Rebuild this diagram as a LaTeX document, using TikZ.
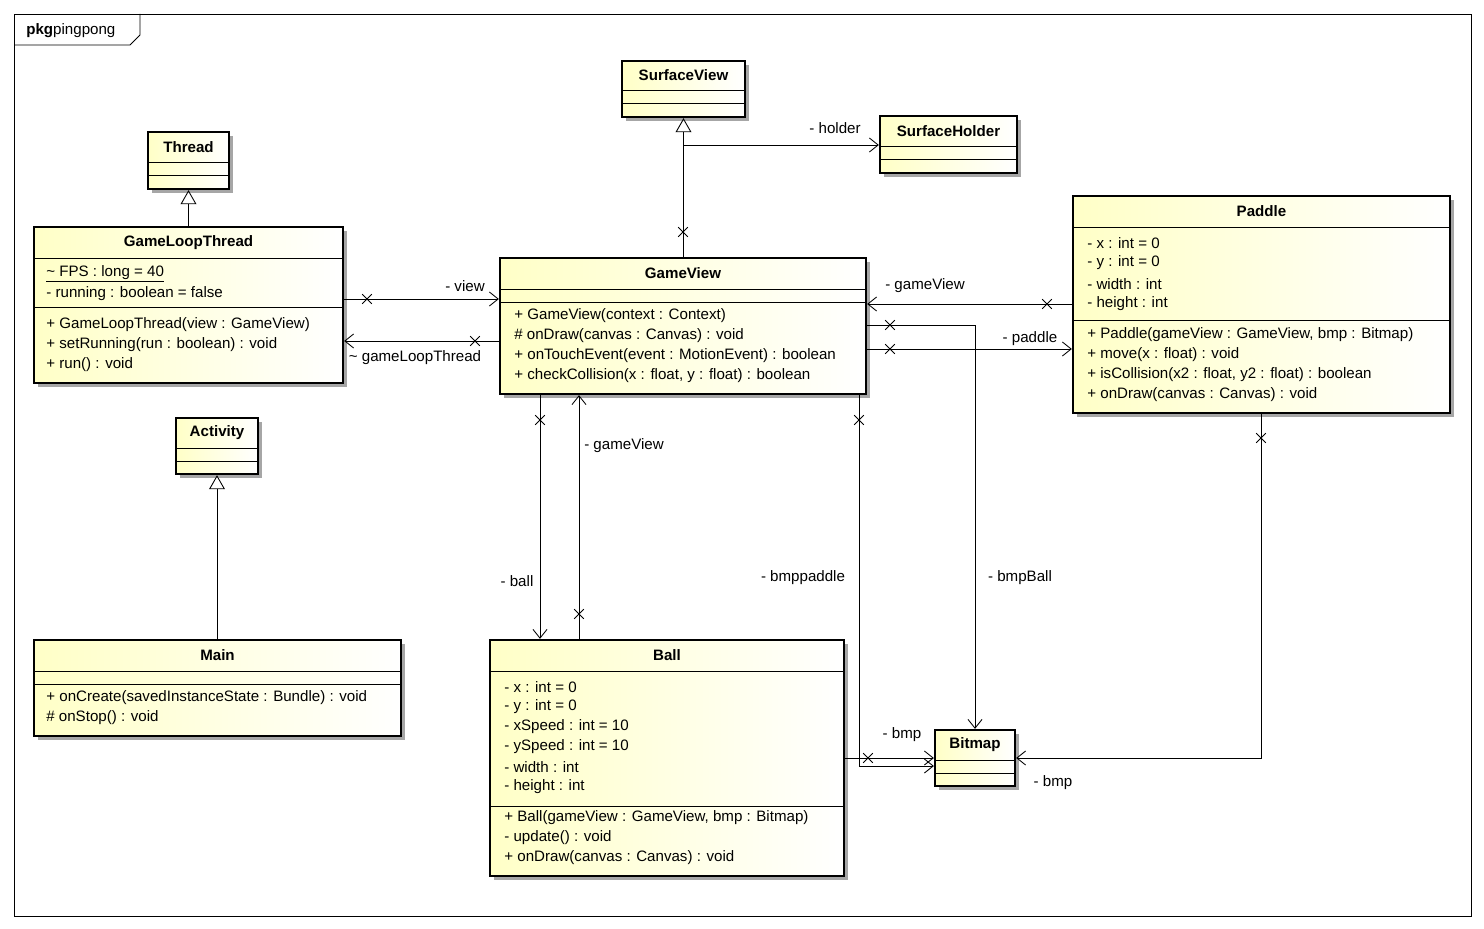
\documentclass[tikz,border=0pt]{standalone}
\usepackage{fontspec}
\setmainfont{Liberation Sans}
\usetikzlibrary{arrows.meta,fit,shapes.misc}

% one UML class: name, x1, y1, x2, y2, first separator, second separator, title
\newcommand{\umlclass}[8]{%
  \fill[black!35] (#2+4,#3+4) rectangle (#4+4,#5+4);
  \node[classbox, fit={(#2,#3)(#4,#5)}] (#1) {};
  \draw[sepline] (#2,#6) -- (#4,#6);
  \draw[sepline] (#2,#7) -- (#4,#7);
  \node[classtitle] at (0.5*#2+0.5*#4, 0.5*#3+0.5*#6) {#8};}

\begin{document}
\begin{tikzpicture}[
    x=0.02cm, y=-0.02cm,
    font=\fontsize{8.6}{10}\selectfont,
    classbox/.style={draw=black, line width=1.3pt, inner sep=0pt, left color=yellow!22, right color=white},
    sepline/.style={line width=0.5pt},
    classtitle/.style={font=\fontsize{8.6}{10}\selectfont\bfseries},
    member/.style={anchor=west, inner sep=0pt},
    lbl/.style={inner sep=0pt},
    assoc/.style={line width=0.5pt, -{Straight Barb[length=5pt, width=8pt]}},
    gen/.style={line width=0.5pt, -{Triangle[open, length=8pt, width=9pt, fill=white]}},
    xmark/.style={cross out, draw, line width=0.5pt, minimum size=5pt, inner sep=0pt}
]
\useasboundingbox (0,0) rectangle (1484,929);

% package frame
\draw[line width=0.5pt] (14,14) rectangle (1471,916);
\draw[line width=0.5pt] (14,45) -- (130,45) -- (140,35) -- (140,14);
\node[anchor=west, inner sep=0pt] (pkg) at (26,31) {\textbf{pkg}pingpong};

% classes
\umlclass{sv}{622}{61}{745}{117}{90}{103}{SurfaceView}
\umlclass{sh}{880}{116}{1017}{173}{146}{159}{SurfaceHolder}
\umlclass{thr}{148}{132}{229}{189}{162}{175}{Thread}
\umlclass{act}{176}{418}{258}{474}{448}{461}{Activity}
\umlclass{bmp}{935}{730}{1015}{786}{760}{773}{Bitmap}

\umlclass{glt}{34}{227}{343}{383}{258}{307}{GameLoopThread}
\node[member] (glt1) at (46,274) {\underline{\~{} FPS : long = 40}};
\node[member] (glt2) at (46,294) {- running : boolean = false};
\node[member] (glt3) at (46,325) {+ GameLoopThread(view : GameView)};
\node[member] (glt4) at (46,345) {+ setRunning(run : boolean) : void};
\node[member] (glt5) at (46,365) {+ run() : void};

\umlclass{gv}{500}{258}{866}{394}{289}{302}{GameView}
\node[member] (gv1) at (514,316) {+ GameView(context : Context)};
\node[member] (gv2) at (514,336) {\# onDraw(canvas : Canvas) : void};
\node[member] (gv3) at (514,356) {+ onTouchEvent(event : MotionEvent) : boolean};
\node[member] (gv4) at (514,376) {+ checkCollision(x : float, y : float) : boolean};

\umlclass{pad}{1073}{196}{1450}{413}{227}{320}{Paddle}
\node[member] (pad1) at (1087,243) {- x : int = 0};
\node[member] (pad2) at (1087,263) {- y : int = 0};
\node[member] (pad3) at (1087,284) {- width : int};
\node[member] (pad4) at (1087,304) {- height : int};
\node[member] (pad5) at (1087,335) {+ Paddle(gameView : GameView, bmp : Bitmap)};
\node[member] (pad6) at (1087,355) {+ move(x : float) : void};
\node[member] (pad7) at (1087,375) {+ isCollision(x2 : float, y2 : float) : boolean};
\node[member] (pad8) at (1087,395) {+ onDraw(canvas : Canvas) : void};

\umlclass{main}{34}{640}{401}{736}{671}{684}{Main}
\node[member] (main1) at (46,698) {+ onCreate(savedInstanceState : Bundle) : void};
\node[member] (main2) at (46,718) {\# onStop() : void};

\umlclass{ball}{490}{640}{844}{876}{671}{806}{Ball}
\node[member] (ball1) at (504,687) {- x : int = 0};
\node[member] (ball2) at (504,707) {- y : int = 0};
\node[member] (ball3) at (504,727) {- xSpeed : int = 10};
\node[member] (ball4) at (504,747) {- ySpeed : int = 10};
\node[member] (ball5) at (504,767) {- width : int};
\node[member] (ball6) at (504,787) {- height : int};
\node[member] (ball7) at (504,818) {+ Ball(gameView : GameView, bmp : Bitmap)};
\node[member] (ball8) at (504,838) {- update() : void};
\node[member] (ball9) at (504,858) {+ onDraw(canvas : Canvas) : void};

% generalizations
\draw[gen] (glt.north -| thr) -- (thr.south);
\draw[gen] (main.north -| act) -- (act.south);
\draw[gen] (gv.north -| sv) -- (sv.south);

% association helper coordinates
\coordinate (cHolder) at (683,145);
\coordinate (cView) at (0,299);
\coordinate (cLoop) at (0,341);
\coordinate (cPadGv) at (0,304);
\coordinate (cPaddle) at (0,349);
\coordinate (cBall) at (540,0);
\coordinate (cBallGv) at (579,0);
\coordinate (cBmpBall) at (975,325);
\coordinate (cBmpPad) at (859,766);
\coordinate (cBallBmp) at (0,758);
\coordinate (cPadBmp) at (1261,758);

% associations
\draw[assoc] (gv.north -| cHolder) -- (cHolder) -- (sh.west |- cHolder);
\node[xmark] (x1) at (683,232) {};
\node[lbl] (l1) at (835,128) {- holder};

\draw[assoc] (glt.east |- cView) -- (gv.west |- cView);
\node[xmark] (x2) at (367,299) {};
\node[lbl] (l2) at (465,286) {- view};

\draw[assoc] (gv.west |- cLoop) -- (glt.east |- cLoop);
\node[xmark] (x3) at (475,341) {};
\node[lbl] (l3) at (415,358) {\~{} gameLoopThread};

\draw[assoc] (pad.west |- cPadGv) -- (gv.east |- cPadGv);
\node[xmark] (x4) at (1047,304) {};
\node[lbl] (l4) at (925,286) {- gameView};

\draw[assoc] (gv.east |- cPaddle) -- (pad.west |- cPaddle);
\node[xmark] (x5) at (890,349) {};
\node[lbl] (l5) at (1030,339) {- paddle};

\draw[assoc] (gv.east |- cBmpBall) -- (cBmpBall) -- (bmp.north -| cBmpBall);
\node[xmark] (x6) at (890,325) {};
\node[lbl] (l6) at (1020,578) {- bmpBall};

\draw[assoc] (gv.south -| cBmpPad) -- (cBmpPad) -- (bmp.west |- cBmpPad);
\node[xmark] (x7) at (859,420) {};
\node[lbl] (l7) at (803,578) {- bmppaddle};

\draw[assoc] (gv.south -| cBall) -- (ball.north -| cBall);
\node[xmark] (x8) at (540,420) {};
\node[lbl] (l8) at (517,581) {- ball};

\draw[assoc] (ball.north -| cBallGv) -- (gv.south -| cBallGv);
\node[xmark] (x9) at (579,614) {};
\node[lbl] (l9) at (624,446) {- gameView};

\draw[assoc] (ball.east |- cBallBmp) -- (bmp.west |- cBallBmp);
\node[xmark] (x10) at (868,758) {};
\node[lbl] (l10) at (902,735) {- bmp};

\draw[assoc] (pad.south -| cPadBmp) -- (cPadBmp) -- (bmp.east |- cPadBmp);
\node[xmark] (x11) at (1261,438) {};
\node[lbl] (l11) at (1053,783) {- bmp};

\end{tikzpicture}
\end{document}
